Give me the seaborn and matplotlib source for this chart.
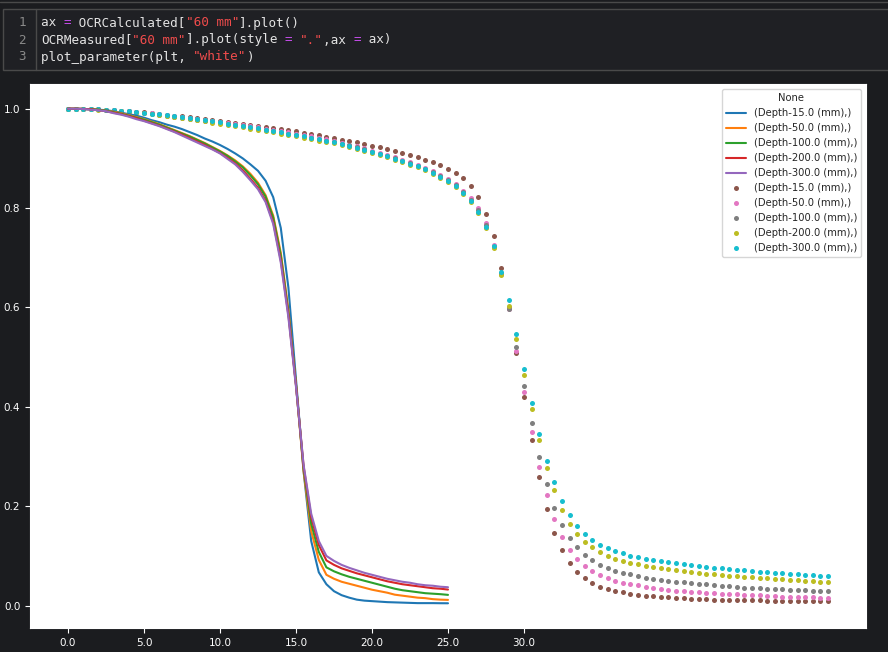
import numpy as np
import matplotlib
matplotlib.use("Agg")
import matplotlib.pyplot as plt
import seaborn as sns
from matplotlib.patches import Rectangle
from matplotlib.lines import Line2D

# distances (x) for the calculated and measured profiles
dist_calc = np.arange(0, 25.5, 0.5)
dist_meas = np.arange(0, 50.5, 0.5)

calc_labels = ["(Depth-15.0 (mm),)", "(Depth-50.0 (mm),)", "(Depth-100.0 (mm),)",
               "(Depth-200.0 (mm),)", "(Depth-300.0 (mm),)"]
meas_labels = calc_labels

calc_15 = [1.000, 1.000, 0.9995, 0.999, 0.998, 0.997, 0.995, 0.992, 0.989, 0.986, 0.982, 0.977, 0.973,
           0.968, 0.964, 0.959, 0.953, 0.947, 0.940, 0.934, 0.927, 0.919, 0.910, 0.900, 0.888,
           0.875, 0.855, 0.822, 0.760, 0.640, 0.455, 0.270, 0.130, 0.067, 0.043, 0.029, 0.021, 0.016,
           0.012, 0.010, 0.009, 0.008, 0.007, 0.0065, 0.006, 0.0055, 0.005, 0.005, 0.005, 0.0048, 0.0047]
calc_50 = [1.000, 1.000, 0.9995, 0.999, 0.998, 0.996, 0.994, 0.991, 0.987, 0.983, 0.979, 0.974, 0.969,
           0.963, 0.957, 0.951, 0.945, 0.938, 0.931, 0.923, 0.915, 0.906, 0.896, 0.884, 0.869,
           0.851, 0.826, 0.785, 0.710, 0.595, 0.445, 0.270, 0.150, 0.092, 0.062, 0.054, 0.048, 0.044,
           0.040, 0.036, 0.032, 0.029, 0.026, 0.022, 0.020, 0.018, 0.016, 0.015, 0.013, 0.012, 0.0115]
calc_100 = [1.000, 1.000, 0.9995, 0.999, 0.998, 0.996, 0.993, 0.990, 0.986, 0.982, 0.978, 0.973, 0.968,
            0.962, 0.956, 0.950, 0.944, 0.937, 0.930, 0.922, 0.914, 0.905, 0.894, 0.882, 0.866,
            0.848, 0.823, 0.781, 0.705, 0.590, 0.445, 0.275, 0.165, 0.108, 0.077, 0.069, 0.063, 0.058,
            0.054, 0.050, 0.046, 0.042, 0.038, 0.034, 0.031, 0.029, 0.027, 0.025, 0.024, 0.023, 0.0216]
calc_200 = [1.000, 1.000, 0.9995, 0.999, 0.997, 0.995, 0.992, 0.989, 0.985, 0.981, 0.976, 0.971, 0.966,
            0.960, 0.954, 0.948, 0.941, 0.934, 0.927, 0.919, 0.911, 0.901, 0.890, 0.876, 0.859,
            0.841, 0.815, 0.772, 0.695, 0.585, 0.443, 0.280, 0.178, 0.122, 0.091, 0.082, 0.075, 0.070,
            0.065, 0.061, 0.057, 0.053, 0.049, 0.046, 0.043, 0.041, 0.039, 0.037, 0.035, 0.034, 0.0323]
calc_300 = [1.000, 1.000, 0.9995, 0.998, 0.997, 0.995, 0.991, 0.988, 0.984, 0.979, 0.975, 0.970, 0.965,
            0.959, 0.953, 0.946, 0.939, 0.932, 0.925, 0.918, 0.910, 0.899, 0.888, 0.873, 0.856,
            0.838, 0.812, 0.768, 0.690, 0.580, 0.440, 0.283, 0.185, 0.130, 0.100, 0.090, 0.082, 0.076,
            0.071, 0.066, 0.062, 0.058, 0.054, 0.051, 0.048, 0.046, 0.043, 0.041, 0.040, 0.038, 0.037]

meas_15 = [1.000, 1.000, 1.000, 0.999, 0.999, 0.998, 0.997, 0.996, 0.995, 0.994, 0.993, 0.991, 0.990,
           0.988, 0.986, 0.985, 0.983, 0.981, 0.979, 0.977, 0.975, 0.973, 0.971, 0.969, 0.967, 0.965,
           0.963, 0.961, 0.959, 0.957, 0.955, 0.952, 0.950, 0.947, 0.944,
           0.941, 0.938, 0.935, 0.933, 0.929, 0.925, 0.922, 0.919, 0.915, 0.910, 0.906, 0.902, 0.897,
           0.892, 0.886, 0.878, 0.870, 0.860, 0.844, 0.822, 0.789, 0.743, 0.680,
           0.598, 0.508, 0.420,
           0.333, 0.258, 0.195, 0.147, 0.1125, 0.086, 0.068, 0.056, 0.046, 0.038, 0.034, 0.030, 0.028,
           0.024, 0.022, 0.020, 0.020, 0.018, 0.018, 0.016, 0.016, 0.014, 0.014, 0.013, 0.012, 0.012,
           0.012, 0.012, 0.012, 0.012, 0.012, 0.010, 0.010, 0.010, 0.010, 0.010, 0.010, 0.010, 0.010, 0.010]
meas_50 = [1.000, 1.000, 1.000, 0.999, 0.999, 0.998, 0.997, 0.996, 0.995, 0.994, 0.992, 0.991, 0.989,
           0.987, 0.986, 0.984, 0.982, 0.980, 0.978, 0.976, 0.974, 0.972, 0.970, 0.967, 0.965, 0.963,
           0.960, 0.958, 0.955, 0.953, 0.950, 0.947, 0.945, 0.942, 0.939,
           0.936, 0.932, 0.928, 0.924, 0.920, 0.915, 0.911, 0.907, 0.902, 0.897, 0.892, 0.887, 0.881,
           0.874, 0.866, 0.858, 0.849, 0.835, 0.820, 0.800, 0.770, 0.725, 0.668,
           0.596, 0.513, 0.430,
           0.349, 0.278, 0.222, 0.175, 0.139, 0.1125, 0.094, 0.080, 0.070, 0.062, 0.056, 0.050, 0.046,
           0.044, 0.042, 0.038, 0.036, 0.034, 0.032, 0.030, 0.030, 0.028, 0.027, 0.026, 0.025, 0.024,
           0.024, 0.023, 0.022, 0.022, 0.021, 0.020, 0.020, 0.018, 0.018, 0.018, 0.017, 0.017, 0.016, 0.016]
meas_100 = [1.000, 1.000, 1.000, 0.999, 0.999, 0.998, 0.997, 0.996, 0.995, 0.993, 0.992, 0.990, 0.988,
            0.986, 0.984, 0.982, 0.980, 0.978, 0.976, 0.974, 0.972, 0.970, 0.967, 0.965, 0.962, 0.960,
            0.957, 0.955, 0.952, 0.950, 0.947, 0.944, 0.941, 0.938, 0.936,
            0.934, 0.930, 0.926, 0.922, 0.918, 0.913, 0.909, 0.905, 0.900, 0.895, 0.890, 0.885, 0.879,
            0.872, 0.864, 0.856, 0.846, 0.832, 0.816, 0.796, 0.765, 0.721, 0.667,
            0.597, 0.521, 0.442,
            0.367, 0.300, 0.244, 0.197, 0.163, 0.137, 0.117, 0.102, 0.092, 0.082, 0.076, 0.070, 0.066,
            0.064, 0.060, 0.056, 0.054, 0.052, 0.050, 0.048, 0.048, 0.046, 0.044, 0.044, 0.042, 0.040,
            0.040, 0.038, 0.036, 0.036, 0.036, 0.034, 0.034, 0.034, 0.032, 0.032, 0.032, 0.030, 0.030, 0.030]
meas_200 = [1.000, 1.000, 1.000, 0.999, 0.998, 0.997, 0.996, 0.995, 0.994, 0.992, 0.991, 0.989, 0.987,
            0.985, 0.983, 0.981, 0.979, 0.977, 0.975, 0.972, 0.970, 0.968, 0.965, 0.963, 0.960, 0.958,
            0.955, 0.953, 0.950, 0.947, 0.945, 0.942, 0.939, 0.936, 0.933,
            0.931, 0.927, 0.923, 0.919, 0.915, 0.910, 0.906, 0.902, 0.897, 0.892, 0.887, 0.882, 0.876,
            0.869, 0.861, 0.853, 0.843, 0.828, 0.812, 0.791, 0.760, 0.719, 0.665,
            0.603, 0.537, 0.464,
            0.395, 0.333, 0.276, 0.232, 0.193, 0.165, 0.145, 0.129, 0.117, 0.108, 0.100, 0.094, 0.090,
            0.086, 0.084, 0.080, 0.078, 0.076, 0.074, 0.072, 0.070, 0.068, 0.066, 0.064, 0.063, 0.062,
            0.060, 0.059, 0.058, 0.057, 0.056, 0.055, 0.054, 0.053, 0.052, 0.052, 0.050, 0.050, 0.048, 0.048]
meas_300 = [1.000, 1.000, 1.000, 0.999, 0.999, 0.998, 0.997, 0.996, 0.995, 0.993, 0.992, 0.990, 0.989,
            0.987, 0.985, 0.983, 0.981, 0.979, 0.977, 0.975, 0.973, 0.970, 0.968, 0.966, 0.963, 0.961,
            0.958, 0.956, 0.953, 0.950, 0.948, 0.945, 0.942, 0.939, 0.936,
            0.933, 0.929, 0.925, 0.921, 0.917, 0.912, 0.908, 0.904, 0.899, 0.894, 0.889, 0.884, 0.878,
            0.871, 0.863, 0.855, 0.845, 0.830, 0.814, 0.793, 0.762, 0.723, 0.672,
            0.616, 0.547, 0.476,
            0.407, 0.345, 0.292, 0.248, 0.2115, 0.183, 0.161, 0.145, 0.133, 0.1226, 0.1165, 0.1105, 0.1065,
            0.100, 0.098, 0.094, 0.092, 0.090, 0.088, 0.086, 0.084, 0.082, 0.080, 0.078, 0.076, 0.076,
            0.074, 0.072, 0.072, 0.070, 0.068, 0.068, 0.066, 0.066, 0.064, 0.064, 0.062, 0.062, 0.060, 0.060]

xtick_pos = [0, 5, 10, 15, 20, 25, 30]
xtick_labels = ["0.0", "5.0", "10.0", "15.0", "20.0", "25.0", "30.0"]

code_lines = [
    [("ax ", "txt"), ("=", "op"), (" OCRCalculated[", "txt"), ('"60 mm"', "str"), ("].plot()", "txt")],
    [("OCRMeasured[", "txt"), ('"60 mm"', "str"), ("].plot(style ", "txt"), ("=", "op"), (" ", "txt"),
     ('"."', "str"), (",ax ", "txt"), ("=", "op"), (" ax)", "txt")],
    [("plot_parameter(plt, ", "txt"), ('"white"', "str"), (")", "txt")],
]

BG = "#1b1c1f"
code_colors = {"txt": "#e4e4e4", "op": "#c74ded", "str": "#f14c4c"}

sns.set_style("white")
plt.rcParams["font.family"] = ["DejaVu Sans"]

W, H = 888, 652
fig = plt.figure(figsize=(W / 100, H / 100), dpi=100, facecolor=BG)


def fx(px):
    return px / W


def fy(py):
    return 1 - py / H


# notebook code cell
fig.add_artist(Line2D([0, 1], [fy(2), fy(2)], transform=fig.transFigure, color="#4a4a4a", lw=1))
fig.add_artist(Rectangle((fx(3), fy(70)), fx(900) - fx(3), fy(9) - fy(70), transform=fig.transFigure,
                         facecolor="#1f2024", edgecolor="#4a4a4a", lw=1))
fig.add_artist(Line2D([fx(36), fx(36)], [fy(70), fy(9)], transform=fig.transFigure, color="#4a4a4a", lw=1))

fs_code = 9.1
cw = 0.6021 * fs_code * 100 / 72  # monospace advance in px
for i, toks in enumerate(code_lines):
    yc = 23 + i * 17
    fig.text(fx(26), fy(yc), str(i + 1), ha="right", va="center", color="#8a8a8a",
             family="DejaVu Sans Mono", fontsize=fs_code)
    n = 0
    for txt, kind in toks:
        fig.text(fx(41 + n * cw), fy(yc), txt, ha="left", va="center", color=code_colors[kind],
                 family="DejaVu Sans Mono", fontsize=fs_code)
        n += len(txt)

# plot output
ax = fig.add_axes([fx(30), fy(628), fx(866) - fx(30), fy(84) - fy(628)])
ax.set_facecolor("white")

calc_series = [calc_15, calc_50, calc_100, calc_200, calc_300]
meas_series = [meas_15, meas_50, meas_100, meas_200, meas_300]
pal = sns.color_palette("tab10")

for i, ys in enumerate(calc_series):
    sns.lineplot(x=dist_calc, y=ys, color=pal[i], lw=1.5, label=calc_labels[i], ax=ax)
for i, ys in enumerate(meas_series):
    sns.scatterplot(x=dist_meas, y=ys, color=pal[i + 5], s=13, linewidth=0,
                    label=meas_labels[i], ax=ax)

ax.set_xticks(xtick_pos)
ax.set_xticklabels(xtick_labels)
ax.set_yticks([0.0, 0.2, 0.4, 0.6, 0.8, 1.0])
ax.set_yticklabels(["0.0", "0.2", "0.4", "0.6", "0.8", "1.0"])
ax.tick_params(bottom=True, left=True, length=3.5, width=0.8, color="white",
               labelcolor="white", labelsize=7.5)
for s in ax.spines.values():
    s.set_color("white")

leg = ax.legend(title="None", loc="upper right", fontsize=7.2, title_fontsize=7.2,
                frameon=True, markerscale=1.0)
leg.get_frame().set_edgecolor("#cccccc")

fig.savefig("out.png", dpi=100, facecolor=BG)
